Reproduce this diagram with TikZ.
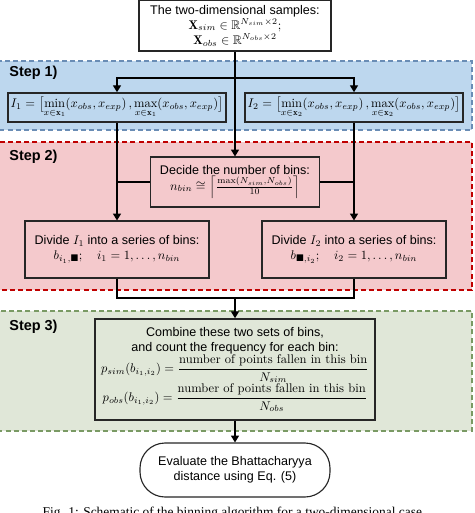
\documentclass[tikz,border=0pt]{standalone}
\usepackage{amsmath,amssymb}
\usepackage{fontspec}
\setsansfont{Liberation Sans}
\newfontfamily\capfont{Liberation Serif}
\usetikzlibrary{arrows.meta,calc,positioning}
\definecolor{stepblue}{HTML}{BDD7EE}
\definecolor{stepblueline}{HTML}{6A8DB5}
\definecolor{stepred}{HTML}{F4C9CC}
\definecolor{stepredline}{HTML}{C00000}
\definecolor{stepgreen}{HTML}{E0E7D8}
\definecolor{stepgreenline}{HTML}{7A9A64}
\newcommand{\px}{0.028cm}
\newcommand{\countbin}{\text{\rmfamily number of points fallen in this bin}}

\begin{document}
\begin{tikzpicture}[x=\px,y=-\px,font=\sffamily,
  box/.style={draw=black!85,line width=0.9pt,align=center,inner sep=2pt},
  boldbox/.style={box,line width=1.3pt},
  link/.style={line width=0.9pt},
  arr/.style={link,-{Triangle[length=5.5pt,width=6.5pt]}},
  zone/.style={dash pattern=on 4pt off 2.5pt,line width=1pt},
  steplabel/.style={anchor=west,font=\fontsize{11.5}{13}\selectfont\sffamily\bfseries}]
  \useasboundingbox (0,0) rectangle (474,513);

  % Step zones
  \draw[zone,draw=stepblueline,fill=stepblue] (-5,61) rectangle (472,130);
  \draw[zone,draw=stepredline,fill=stepred] (-5,142) rectangle (472,290);
  \draw[zone,draw=stepgreenline,fill=stepgreen] (-5,311) rectangle (472,431);
  \node[steplabel] (lab1) at (5,73) {Step 1)};
  \node[steplabel] (lab2) at (5,157) {Step 2)};
  \node[steplabel] (lab3) at (5,327) {Step 3)};

  % Samples
  \node[box,fill=white,minimum width=192*\px,minimum height=51*\px] (samples) at (235,25.5)
    {The two-dimensional samples:\\
     $\mathbf{X}_{sim} \in \mathbb{R}^{N_{sim}\times 2};$\\
     $\mathbf{X}_{obs} \in \mathbb{R}^{N_{obs}\times 2}$};

  % Step 1: intervals
  \node[boldbox,minimum width=218*\px,minimum height=29*\px] (int1) at (117,107.5)
    {$I_1 = \bigl[\min\limits_{x\in\mathbf{x}_1}(x_{obs},x_{exp})\,,\max\limits_{x\in\mathbf{x}_1}(x_{obs},x_{exp})\bigr]$};
  \node[boldbox,minimum width=218*\px,minimum height=29*\px] (int2) at (354,107.5)
    {$I_2 = \bigl[\min\limits_{x\in\mathbf{x}_2}(x_{obs},x_{exp})\,,\max\limits_{x\in\mathbf{x}_2}(x_{obs},x_{exp})\bigr]$};

  % Step 2: number of bins and bins
  \node[box,minimum width=169*\px,minimum height=50*\px] (nbins) at (235,182)
    {Decide the number of bins:\\
     $n_{bin} \cong \left\lceil\frac{\max(N_{sim},N_{obs})}{10}\right\rceil$};
  \node[box,minimum width=184*\px,minimum height=57*\px] (bins1) at (117,249.5)
    {Divide $I_1$ into a series of bins:\\
     $b_{i_1,\blacksquare};\quad i_1 = 1,\ldots,n_{bin}$};
  \node[box,minimum width=184*\px,minimum height=57*\px] (bins2) at (354,249.5)
    {Divide $I_2$ into a series of bins:\\
     $b_{\blacksquare,i_2};\quad i_2 = 1,\ldots,n_{bin}$};

  % Step 3: frequencies
  \node[boldbox,minimum width=280*\px,minimum height=101*\px] (freq) at (235,369.5)
    {Combine these two sets of bins,\\
     and count the frequency for each bin:\\
     $p_{sim}(b_{i_1,i_2}) = \dfrac{\countbin}{N_{sim}}$\\
     $p_{obs}(b_{i_1,i_2}) = \dfrac{\countbin}{N_{obs}}$};

  % Result
  \node[box,fill=white,rounded corners=20pt,minimum width=190*\px,minimum height=54*\px] (bhatt) at (235,470)
    {Evaluate the Bhattacharyya\\ distance using Eq. (5)};

  % Connectors
  \coordinate (split) at (235,78);
  \coordinate (merge) at (235,298);
  \draw[arr] (samples.south) -- (nbins.north);
  \draw[arr] (split) -| (int1.north);
  \draw[arr] (split) -| (int2.north);
  \draw[arr] (int1.south) -- (bins1.north);
  \draw[arr] (int2.south) -- (bins2.north);
  \draw[link] (nbins.west) -- (nbins.west -| int1.south);
  \draw[link] (nbins.east) -- (nbins.east -| int2.south);
  \draw[link] (bins1.south) |- (merge);
  \draw[link] (bins2.south) |- (merge);
  \draw[arr] (merge) -- (freq.north);
  \draw[arr] (freq.south) -- (bhatt.north);

  % Caption (cut by the page edge)
  \node[anchor=base,font=\fontsize{10.7}{12}\capfont] (caption) at (234,516.5)
    {Fig. 1: Schematic of the binning algorithm for a two-dimensional case.};
\end{tikzpicture}
\end{document}
